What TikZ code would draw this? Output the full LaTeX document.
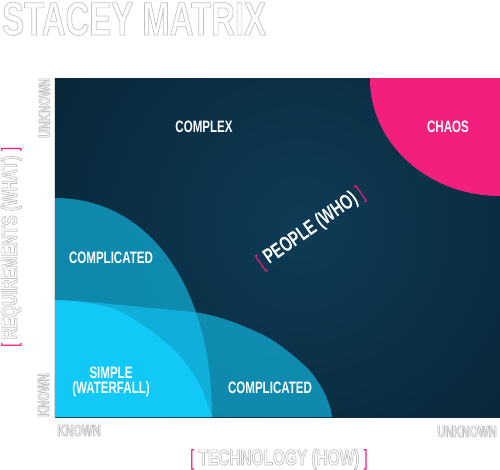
\documentclass[tikz,border=0pt]{standalone}
\usepackage{fontspec}
\setmainfont{Liberation Sans}[FakeStretch=0.7]
\definecolor{bgin}{HTML}{0E3B56}
\definecolor{bgout}{HTML}{051620}
\definecolor{cyanc}{HTML}{12C8F6}
\definecolor{pinkc}{HTML}{F21F7C}
\newcommand\pbr[1]{{\mdseries\color{pinkc}#1}}
\newcommand\otl[1]{\special{pdf:literal direct 2 Tr 0.7 w 0.76 G}#1\special{pdf:literal direct 0 Tr}}
\tikzset{
  zonelabel/.style={text=white, font=\bfseries\fontsize{16.5}{15}\selectfont, inner sep=0pt, align=center},
  axislabel/.style={text=white, font=\bfseries\fontsize{16}{16}\selectfont, inner sep=0pt},
  axistitle/.style={text=white, font=\bfseries\fontsize{22}{22}\selectfont, inner sep=0pt},
  titlestyle/.style={text=white, font=\bfseries\fontsize{47}{47}\selectfont, inner sep=0pt},
  peoplestyle/.style={text=white, font=\bfseries\fontsize{21}{21}\selectfont, inner sep=0pt},
  compfill/.style={fill=cyanc, fill opacity=0.6},
  simplefill/.style={fill=cyanc},
  chaosfill/.style={fill=pinkc},
  frameline/.style={draw=black!14, line width=0.8pt}
}
\begin{document}
\begin{tikzpicture}[x=1pt,y=-1pt]
\useasboundingbox (0,0) rectangle (500,470);
% plot area
\draw[frameline] (54.5,417) -- (54.5,78.5) -- (500,78.5);
\begin{scope}
  \clip (55,79) rectangle (500,417);
  \shade[inner color=bgin, outer color=bgout] (300,225) circle (520);
  \fill[chaosfill] (500,79) ellipse [x radius=130, y radius=117];
  \fill[compfill] (55,417) -- (55,198) .. controls (148,198) and (212,285) .. (212,417) -- cycle;
  \fill[compfill] (55,417) -- plot[smooth] coordinates {(55,300) (100,303) (150,308) (200,313) (233,322) (267,337) (290,353) (310,371) (323,390) (330,407) (332,417)} -- cycle;
  \fill[simplefill] (55,417) -- plot[smooth] coordinates {(55,300) (83,302) (117,310) (150,330) (177,353) (197,380) (208,405) (212,417)} -- cycle;
\end{scope}
% zone labels
\node[zonelabel, anchor=base] (complex) at (204,133) {COMPLEX};
\node[zonelabel, anchor=base] (chaos) at (448,133) {CHAOS};
\node[zonelabel, anchor=base] (compA) at (111,263.5) {COMPLICATED};
\node[zonelabel, anchor=center] (simple) at (111,382) {SIMPLE\\(WATERFALL)};
\node[zonelabel, anchor=base] (compB) at (270,393) {COMPLICATED};
\node[peoplestyle, rotate=35] (people) at (311,229) {\pbr{[} PEOPLE (WHO) \pbr{]}};
% title and axes
\node[titlestyle, anchor=base west] (title) at (2,35) {\otl{STACEY MATRIX}};
\node[axislabel, anchor=base, rotate=90] (yunk) at (50,108) {\otl{UNKNOWN}};
\node[axislabel, anchor=base, rotate=90] (ykn) at (49,395) {\otl{KNOWN}};
\node[axistitle, anchor=base, rotate=90] (ytitle) at (17,247.5) {\pbr{[} \otl{REQUIREMENTS (WHAT)} \pbr{]}};
\node[axislabel, anchor=base] (xkn) at (79,436) {\otl{KNOWN}};
\node[axislabel, anchor=base] (xunk) at (467,437) {\otl{UNKNOWN}};
\node[axistitle, anchor=base] (xtitle) at (279,465) {\pbr{[} \otl{TECHNOLOGY (HOW)} \pbr{]}};
\end{tikzpicture}
\end{document}
